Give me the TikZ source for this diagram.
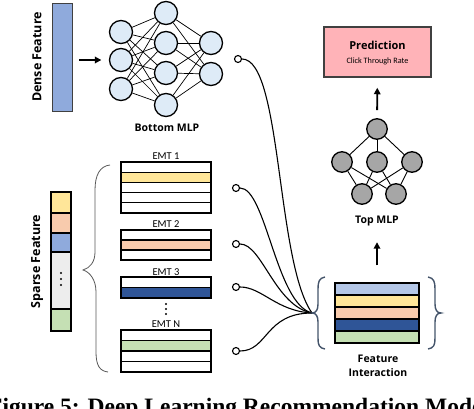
\documentclass[tikz,border=0pt]{standalone}
\usepackage{fontspec}
\newfontfamily\osans{Open Sans}
\newfontfamily\calib{Carlito}
\newfontfamily\capfont{Liberation Serif}
\usetikzlibrary{arrows.meta}
\definecolor{densebar}{HTML}{8FAADC}
\definecolor{mlpblue}{HTML}{DEEBF7}
\definecolor{mlpgray}{HTML}{A6A6A6}
\definecolor{cyellow}{HTML}{FFE699}
\definecolor{cpeach}{HTML}{F8CBAD}
\definecolor{cblue}{HTML}{8FAADC}
\definecolor{cdark}{HTML}{2F5597}
\definecolor{cgreen}{HTML}{C5E0B4}
\definecolor{clight}{HTML}{B4C7E7}
\definecolor{cgrayseg}{HTML}{EDEDED}
\definecolor{cpink}{HTML}{FFB3B8}
\definecolor{bracegray}{HTML}{595959}
\definecolor{braceblue}{HTML}{44546A}
\begin{document}
\begin{tikzpicture}[x=1pt,y=-1pt,
  bnode/.style={circle, draw, line width=1.3pt, fill=mlpblue, minimum size=23pt, inner sep=0pt},
  tnode/.style={circle, draw, line width=1.3pt, fill=mlpgray, minimum size=20.5pt, inner sep=0pt},
  port/.style={circle, draw, line width=1.1pt, fill=white, minimum size=7pt, inner sep=0pt},
  link/.style={line width=0.7pt},
  curve/.style={line width=1.1pt},
  arr/.style={line width=1.8pt, -{Triangle[length=6.5pt,width=6.5pt]}},
  row/.style={draw, line width=1.3pt},
  lab/.style={font=\osans\bfseries\fontsize{10.5}{14}\selectfont, inner sep=0pt, align=center},
  side/.style={font=\osans\bfseries\fontsize{12.5}{13}\selectfont, inner sep=0pt, rotate=90},
  emt/.style={font=\calib\fontsize{10.5}{10.5}\selectfont, inner sep=0pt}]
\useasboundingbox (0,0) rectangle (474,409);
\clip (0,0) rectangle (474,409);

% ---------- dense feature ----------
\node[draw=black!75, line width=0.8pt, fill=densebar, minimum width=20pt, minimum height=108pt, inner sep=0pt] (dense) at (62,57) {};
\node[side] (densel) at (37,57) {Dense Feature};

% ---------- bottom MLP ----------
\node[bnode] (a1) at (121,32) {};
\node[bnode] (a2) at (121,60) {};
\node[bnode] (a3) at (121,89) {};
\node[bnode] (b1) at (166,13) {};
\node[bnode] (b2) at (166,43) {};
\node[bnode] (b3) at (166,73) {};
\node[bnode] (b4) at (166,105) {};
\node[bnode] (c1) at (211,43) {};
\node[bnode] (c2) at (211,74) {};
\foreach \i in {1,2,3} \foreach \j in {1,2,3,4} \draw[link] (a\i) -- (b\j);
\foreach \j in {1,2,3,4} \foreach \k in {1,2} \draw[link] (b\j) -- (c\k);
\node[lab] (botl) at (167,128) {Bottom MLP};
\draw[arr, shorten <=7pt, shorten >=7.5pt] (dense.east |- a2) -- (a2);

% ---------- sparse feature ----------
\node[draw, line width=1.3pt, minimum width=20pt, minimum height=139pt, inner sep=0pt] (sparse) at (61,261.5) {};
\filldraw[row, fill=cyellow] (51,192) rectangle (71,213);
\filldraw[row, fill=cpeach] (51,213) rectangle (71,233);
\filldraw[row, fill=cblue] (51,233) rectangle (71,252);
\filldraw[row, fill=cgrayseg] (51,252) rectangle (71,309);
\filldraw[row, fill=cgreen] (51,309) rectangle (71,331);
\foreach \yy in {273,279,285} \fill (61,\yy) circle (1.1);
\node[side] (sparsel) at (37,261.5) {Sparse Feature};

% big brace
\draw[bracegray, line width=0.8pt] (110,165) .. controls (100,166) and (95,175) .. (95,190) -- (95,252)
  .. controls (95,262) and (90,268) .. (83,270) .. controls (90,272) and (96,280) .. (96,292)
  -- (96,352) .. controls (96,366) and (100,371) .. (108,372);

% ---------- embedding tables ----------
\node[emt] (e1l) at (166,156) {EMT 1};
\fill[cyellow] (121,172.2) rectangle (211,182.4);
\foreach \i in {0,...,4} \draw[row] (121,{162+10.2*\i}) rectangle (211,{162+10.2*(\i+1)});
\node[emt] (e2l) at (166,224) {EMT 2};
\fill[cpeach] (121,240) rectangle (211,250);
\foreach \i in {0,...,2} \draw[row] (121,{230+10*\i}) rectangle (211,{230+10*(\i+1)});
\node[emt] (e3l) at (166,272) {EMT 3};
\fill[cdark] (121,287.5) rectangle (211,298);
\foreach \i in {0,...,1} \draw[row] (121,{277+10.5*\i}) rectangle (211,{277+10.5*(\i+1)});
\foreach \yy in {304,309,314} \fill (166,\yy) circle (1.1);
\node[emt] (enl) at (166,324) {EMT N};
\fill[cgreen] (121,340.5) rectangle (211,351);
\foreach \i in {0,...,3} \draw[row] (121,{330+10.5*\i}) rectangle (211,{330+10.5*(\i+1)});

% ---------- ports and curves ----------
\node[port] (p0) at (238,59) {};
\node[port] (p1) at (236,188) {};
\node[port] (p2) at (236,244) {};
\node[port] (p3) at (236,287) {};
\node[port] (p4) at (236,351) {};
\coordinate (fitip) at (312,313);
\draw[curve] (p0) .. controls (282,59) and (276,262) .. (fitip);
\draw[curve] (p1) .. controls (266,188) and (276,304) .. (fitip);
\draw[curve] (p2) .. controls (262,244) and (275,306) .. (fitip);
\draw[curve] (p3) .. controls (262,287) and (276,311) .. (fitip);
\draw[curve] (p4) .. controls (268,351) and (265,313) .. (fitip);

% ---------- feature interaction ----------
\node[draw, line width=1.5pt, minimum width=84pt, minimum height=60pt, inner sep=0pt] (fi) at (377,313) {};
\filldraw[row, line width=1.5pt, fill=clight] (335,283) rectangle (419,295);
\filldraw[row, line width=1.5pt, fill=cyellow] (335,295) rectangle (419,307);
\filldraw[row, line width=1.5pt, fill=cpeach] (335,307) rectangle (419,319);
\filldraw[row, line width=1.5pt, fill=cdark] (335,319) rectangle (419,331);
\filldraw[row, line width=1.5pt, fill=cgreen] (335,331) rectangle (419,343);
\draw[braceblue, line width=1.4pt] (325,277) .. controls (319,278) and (318,282) .. (318,289) -- (318,304)
  .. controls (318,310) and (316,313) .. (fitip) .. controls (316,313) and (318,316) .. (318,322)
  -- (318,338) .. controls (318,345) and (319,348) .. (325,349);
\draw[braceblue, line width=1.4pt] (428,277) .. controls (434,278) and (435,282) .. (435,289) -- (435,304)
  .. controls (435,310) and (437,313) .. (441,313) .. controls (437,313) and (435,316) .. (435,322)
  -- (435,338) .. controls (435,345) and (434,348) .. (428,349);
\node[lab] (fil) at (378,366) {Feature\\Interaction};

% ---------- top MLP ----------
\node[tnode] (t) at (377,129) {};
\node[tnode] (m1) at (342,162) {};
\node[tnode] (m2) at (377,162) {};
\node[tnode] (m3) at (412,162) {};
\node[tnode] (n1) at (362,194) {};
\node[tnode] (n2) at (396,194) {};
\foreach \i in {1,2,3} \draw[link, line width=0.9pt] (m\i) -- (t);
\foreach \i in {1,2,3} \foreach \j in {1,2} \draw[link, line width=0.9pt] (n\j) -- (m\i);
\node[lab] (topl) at (377,221) {Top MLP};
\draw[arr, shorten <=17pt, shorten >=16pt] (fi) -- (topl);

% ---------- prediction ----------
\node[draw=black!75, line width=1.5pt, fill=cpink, minimum width=107pt, minimum height=50pt, inner sep=0pt] (pred) at (377.5,52) {};
\node[lab, font=\osans\bfseries\fontsize{11}{12}\selectfont] (predl) at (377.5,45) {Prediction};
\node[emt, font=\calib\fontsize{8.2}{9}\selectfont] (preds) at (377.5,61) {Click Through Rate};
\draw[arr, shorten <=8pt, shorten >=10pt] (t) -- (pred);

% ---------- caption ----------
\node[anchor=base west, inner sep=0pt, font=\capfont\bfseries\fontsize{23.5}{23.5}\selectfont] (cap) at (-12,414) {Figure 5: Deep Learning Recommendation Model};
\end{tikzpicture}
\end{document}
